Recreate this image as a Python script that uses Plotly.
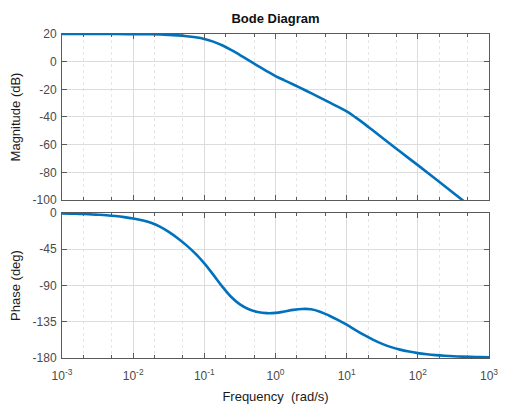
import plotly.graph_objects as go
from plotly.subplots import make_subplots

# values (log10 of frequency in rad/s)
mag_logw = [-3, -2.75, -2.5, -2.25, -2, -1.75, -1.5, -1.375, -1.25, -1.125,
            -1, -0.875, -0.75, -0.625, -0.5, -0.375, -0.25, -0.125, 0, 0.125,
            0.25, 0.375, 0.5, 0.625, 0.75, 0.875, 1, 1.125, 1.25, 1.375,
            1.5, 1.75, 2, 2.25, 2.5, 2.75, 3]
mag_db = [20, 20, 20, 20, 19.9, 19.8, 19.4, 19.0, 18.4, 17.6,
          16.4, 14.5, 11.9, 8.6, 4.8, 0.9, -3.0, -6.8, -10.4, -13.5,
          -16.5, -19.6, -22.8, -26, -29.3, -32.5, -36, -40.3, -45, -50,
          -55, -65, -74.8, -84.8, -95, -105, -115]

phase_logw = [-3, -2.875, -2.75, -2.625, -2.5, -2.375, -2.25, -2.125, -2, -1.875,
              -1.75, -1.625, -1.5, -1.375, -1.25, -1.125, -1, -0.875, -0.75, -0.625,
              -0.5, -0.375, -0.25, -0.125, 0, 0.125, 0.25, 0.375, 0.5, 0.625,
              0.75, 0.875, 1, 1.125, 1.25, 1.375, 1.5, 1.625, 1.75, 1.875,
              2, 2.125, 2.25, 2.375, 2.5, 2.625, 2.75, 2.875, 3]
phase_deg = [-0.6, -0.8, -1.1, -1.5, -2.1, -2.8, -3.8, -5.1, -6.8, -9.0,
             -12.2, -17.0, -23.5, -31.3, -40.2, -50.5, -62.5, -76.5, -91, -104,
             -113.5, -119.5, -122.8, -124.3, -124, -122.3, -120.3, -119.1, -119.5, -122.5,
             -127.2, -132.7, -138.7, -145.3, -151.7, -157.5, -162.5, -166.5, -169.6, -172,
             -173.9, -175.3, -176.4, -177.2, -177.8, -178.3, -178.6, -178.9, -179.2]

xtick_vals = [1e-3, 1e-2, 1e-1, 1e0, 1e1, 1e2, 1e3]
xtick_text = ['10<sup>-3</sup>', '10<sup>-2</sup>', '10<sup>-1</sup>', '10<sup>0</sup>',
              '10<sup>1</sup>', '10<sup>2</sup>', '10<sup>3</sup>']
mag_ticks = [20, 0, -20, -40, -60, -80, -100]
phase_ticks = [0, -45, -90, -135, -180]

blue = '#0072BD'
axcol = '#5a5a5a'
tickcol = '#4a4a4a'
fnt = 'Liberation Sans, Arial'

fig = make_subplots(rows=2, cols=1, shared_xaxes=False, vertical_spacing=0.04)

fig.add_trace(go.Scatter(x=[10 ** v for v in mag_logw], y=mag_db, mode='lines',
                         line=dict(color=blue, width=2.6, shape='spline', smoothing=1)),
              row=1, col=1)
fig.add_trace(go.Scatter(x=[10 ** v for v in phase_logw], y=phase_deg, mode='lines',
                         line=dict(color=blue, width=2.6, shape='spline', smoothing=1)),
              row=2, col=1)

xcommon = dict(type='log', range=[-3, 3], tickvals=xtick_vals, automargin=False,
               showline=True, linecolor=axcol, linewidth=1, mirror='allticks',
               ticks='inside', ticklen=5, tickcolor=axcol,
               showgrid=True, gridcolor='#dcdcdc', gridwidth=1, zeroline=False,
               minor=dict(ticks='inside', ticklen=3, tickcolor=axcol, showgrid=True,
                          gridcolor='#e6e6e6', griddash='dot'),
               tickfont=dict(family=fnt, size=12, color=tickcol))
ycommon = dict(showline=True, linecolor=axcol, linewidth=1, mirror='allticks', automargin=False,
               ticks='inside', ticklen=5, tickcolor=axcol, ticklabelstandoff=2,
               showgrid=True, gridcolor='#dcdcdc', gridwidth=1, zeroline=False,
               tickfont=dict(family=fnt, size=12, color=tickcol),
               title_font=dict(family=fnt, size=13, color='#1a1a1a'),
               title_standoff=10)

fig.update_xaxes(**xcommon)
fig.update_xaxes(showticklabels=False, domain=[0, 1], row=1, col=1)
fig.update_xaxes(ticktext=xtick_text, ticklabelstandoff=7, row=2, col=1,
                 title=dict(text='Frequency  (rad/s)', standoff=9,
                            font=dict(family=fnt, size=13, color='#1a1a1a')))
fig.update_yaxes(**ycommon)
fig.update_yaxes(range=[-100, 20], tickvals=mag_ticks, ticktext=[str(v) for v in mag_ticks],
                 title_text='Magnitude (dB)', domain=[0.4877, 1], row=1, col=1)
fig.update_yaxes(range=[-180, 0], tickvals=phase_ticks, ticktext=[str(v) for v in phase_ticks],
                 title_text='Phase (deg)', domain=[0, 0.4475], row=2, col=1)

# page body has an 8px margin, so the figure is 8px smaller and shifted
fig.update_layout(
    width=517, height=405,
    margin=dict(l=54, r=36, t=26, b=55),
    showlegend=False,
    plot_bgcolor='white', paper_bgcolor='white',
    title=dict(text='<b>Bode Diagram</b>', xref='paper', x=0.5, xanchor='center',
               y=0.975, yanchor='middle',
               font=dict(family=fnt, size=13, color='#111111')),
)

fig.write_html("out.html")
